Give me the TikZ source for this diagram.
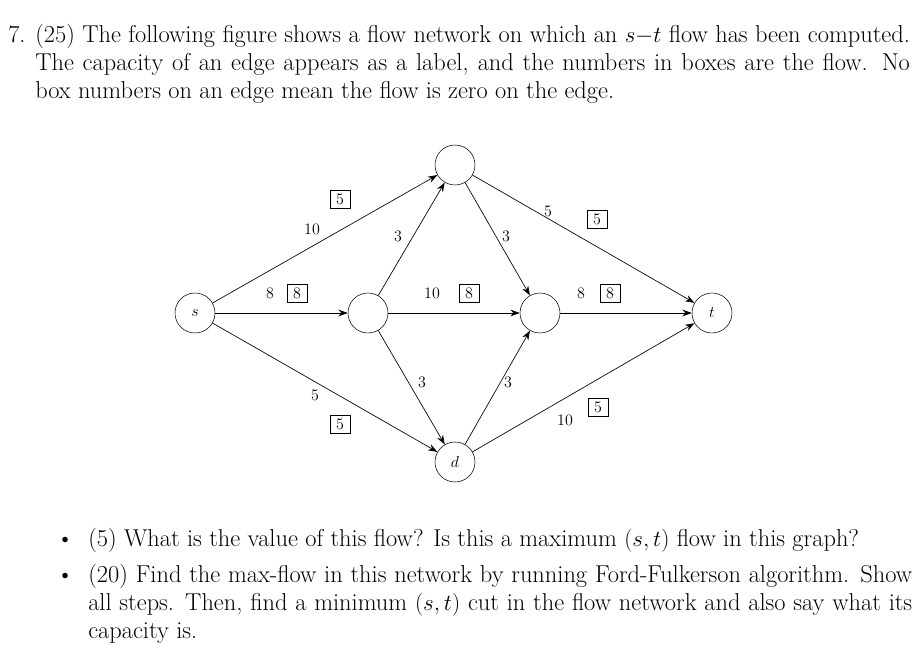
\documentclass[tikz,border=0pt]{standalone}
\usetikzlibrary{arrows.meta}
\begin{document}
\begin{tikzpicture}[x=0.75pt,y=-0.75pt,
  vert/.style={circle,draw,minimum size=30pt,inner sep=0pt,font=\fontsize{12}{14}\selectfont},
  edge/.style={draw,-{Stealth[length=7pt,width=5pt]},line width=0.5pt},
  lab/.style={font=\fontsize{12}{14}\selectfont,inner sep=1pt},
  flow/.style={draw,font=\fontsize{12}{14}\selectfont,inner sep=2.5pt,minimum width=15pt},
  txt/.style={anchor=base west,inner sep=0pt,font=\fontsize{18.3}{22}\selectfont}]
\useasboundingbox (0,0) rectangle (918,646);
\node[txt] (n7) at (8,42) {7.};
\node[txt] (l1) at (35,42) {\hbox to 656pt{(25) The following figure shows a flow network on which an $s{-}t$ flow has been computed.}};
\node[txt] (l2) at (35,70) {\hbox to 656pt{The capacity of an edge appears as a label, and the numbers in boxes are the flow. No}};
\node[txt] (l3) at (35,98) {box numbers on an edge mean the flow is zero on the edge.};
\node[vert] (s) at (195,313) {$s$};
\node[vert] (a) at (455,165) {};
\node[vert] (b) at (368,313) {};
\node[vert] (c) at (540,313) {};
\node[vert] (d) at (455,462) {$d$};
\node[vert] (t) at (712,313) {$t$};
\draw[edge] (s) -- (a);
\draw[edge] (s) -- (b);
\draw[edge] (s) -- (d);
\draw[edge] (b) -- (a);
\draw[edge] (a) -- (c);
\draw[edge] (b) -- (c);
\draw[edge] (a) -- (t);
\draw[edge] (c) -- (t);
\draw[edge] (b) -- (d);
\draw[edge] (d) -- (c);
\draw[edge] (d) -- (t);
\node[lab] (e1) at (312,229) {10}; \node[flow] (f1) at (340,199) {5};
\node[lab] (e2) at (270,293) {8}; \node[flow] (f2) at (297,293) {8};
\node[lab] (e3) at (315,395) {5}; \node[flow] (f3) at (340,424) {5};
\node[lab] (e4) at (398,236) {3};
\node[lab] (e5) at (506,236) {3};
\node[lab] (e6) at (432,293) {10}; \node[flow] (f6) at (469,293) {8};
\node[lab] (e7) at (548,211) {5}; \node[flow] (f7) at (597,219) {5};
\node[lab] (e8) at (581,293) {8}; \node[flow] (f8) at (610,293) {8};
\node[lab] (e9) at (422,382) {3};
\node[lab] (e10) at (508,382) {3};
\node[lab] (e11) at (565,420) {10}; \node[flow] (f11) at (598,407) {5};
\node[txt] (bu1) at (56,546) {\textbullet};
\node[txt] (b1) at (88,546) {(5) What is the value of this flow? Is this a maximum $(s,t)$ flow in this graph?};
\node[txt] (bu2) at (56,582) {\textbullet};
\node[txt] (b2) at (88,582) {\hbox to 618pt{(20) Find the max-flow in this network by running Ford-Fulkerson algorithm. Show}};
\node[txt] (b3) at (88,610) {\hbox to 618pt{all steps. Then, find a minimum $(s,t)$ cut in the flow network and also say what its}};
\node[txt] (b4) at (88,638) {capacity is.};
\end{tikzpicture}
\end{document}
